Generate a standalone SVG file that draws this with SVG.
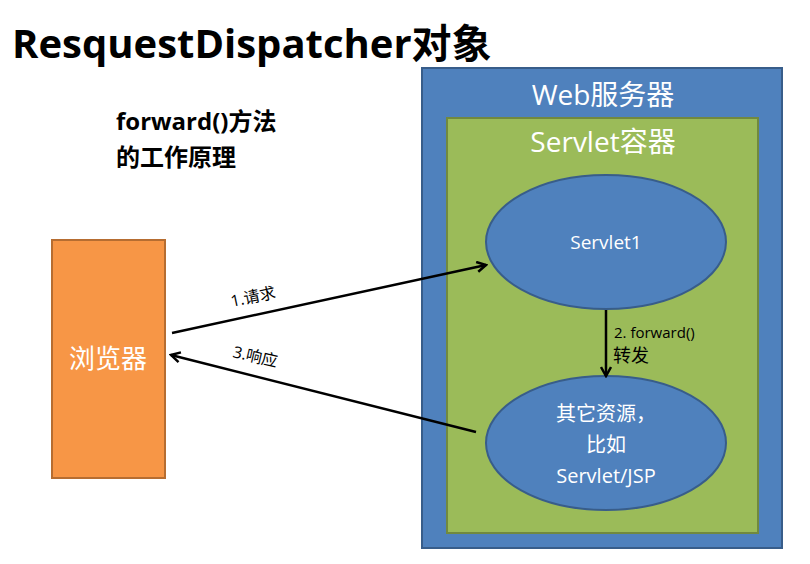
<svg xmlns="http://www.w3.org/2000/svg" width="810" height="564" viewBox="0 0 810 564">
<defs>
<style>
text{font-family:"Open Sans","Noto Sans CJK SC",sans-serif}
.w{fill:#fff}
.e{fill:#4F81BD;stroke:#385D8A;stroke-width:2}
.c{stroke:#000;stroke-width:2.5;fill:none;marker-end:url(#a)}
</style>
<marker id="a" markerWidth="12" markerHeight="12" refX="10" refY="6" orient="auto" markerUnits="userSpaceOnUse"><path d="M1,1 L10,6 L1,11" fill="none" stroke="#000" stroke-width="2.5"/></marker>
</defs>
<rect width="810" height="564" fill="#fff"/>
<text x="12" y="58" font-size="40" font-weight="bold">ResquestDispatcher对象</text>
<text x="116" y="130" font-size="24" font-weight="bold">forward()方法</text>
<text x="116" y="166" font-size="24" font-weight="bold">的工作原理</text>
<g id="web"><rect x="422" y="68" width="360" height="480" fill="#4F81BD" stroke="#385D8A" stroke-width="2"/>
<text x="603" y="105" font-size="28" text-anchor="middle" class="w">Web服务器</text></g>
<g id="container"><rect x="447" y="118" width="311" height="415" fill="#9BBB59" stroke="#71893F" stroke-width="2"/>
<text x="603" y="152" font-size="28" text-anchor="middle" class="w">Servlet容器</text></g>
<g id="servlet1"><ellipse cx="606" cy="242" rx="120" ry="67" class="e"/>
<text x="606" y="249" font-size="19" text-anchor="middle" class="w">Servlet1</text></g>
<g id="other"><ellipse cx="606" cy="443" rx="120" ry="67" class="e"/>
<text x="606" y="421" font-size="20" text-anchor="middle" class="w">其它资源，</text>
<text x="606" y="452" font-size="20" text-anchor="middle" class="w">比如</text>
<text x="606" y="483" font-size="20" text-anchor="middle" class="w">Servlet/JSP</text></g>
<g id="browser"><rect x="52" y="240" width="113" height="238" fill="#F79646" stroke="#B66D31" stroke-width="2"/>
<text x="108" y="368" font-size="26" text-anchor="middle" class="w">浏览器</text></g>
<g id="connectors">
<line x1="172" y1="333" x2="486" y2="265" class="c"/>
<line x1="476" y1="432" x2="171" y2="355" class="c"/>
<line x1="606" y1="310" x2="606" y2="376" class="c"/>
<text x="232" y="307" font-size="16" transform="rotate(-12 232 307)">1.请求</text>
<text x="232" y="357" font-size="16" transform="rotate(13 232 357)">3.响应</text>
<text x="614" y="338" font-size="15">2. forward()</text>
<text x="613" y="362" font-size="18">转发</text>
</g>
</svg>
